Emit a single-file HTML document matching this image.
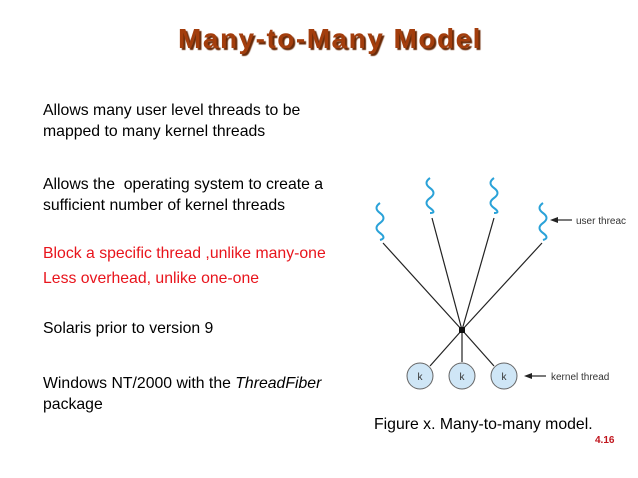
<!DOCTYPE html>
<html><head><style>
body{margin:0;width:638px;height:478px;background:#fff;position:relative;overflow:hidden;font-family:"Liberation Sans",sans-serif}
.t{position:absolute;left:43px;font-size:15.8px;line-height:21px;color:#000;white-space:nowrap}
.r{color:#e8141c}
h1{position:absolute;top:23px;left:0;width:660px;text-align:center;margin:0;font-size:28px;font-weight:bold;color:#a33d0c;text-shadow:2px 2px 1px #6a2a08;letter-spacing:1.5px}
</style></head><body>
<h1>Many-to-Many Model</h1>
<div class="t" style="top:100px">Allows many user level threads to be<br>mapped to many kernel threads</div>
<div class="t" style="top:174px">Allows the&nbsp; operating system to create a<br>sufficient number of kernel threads</div>
<div class="t r" style="top:243px">Block a specific thread ,unlike many-one</div>
<div class="t r" style="top:268px">Less overhead, unlike one-one</div>
<div class="t" style="top:318px">Solaris prior to version 9</div>
<div class="t" style="top:373px">Windows NT/2000 with the <i>ThreadFiber</i><br>package</div>
<div class="t" style="top:414px;left:374px">Figure x. Many-to-many model.</div>
<div style="position:absolute;left:595px;top:435px;font-size:10px;font-weight:bold;color:#c0141c">4.16</div>
<svg width="638" height="478" style="position:absolute;left:0;top:0">
<g fill="none" stroke="#2aa2d8" stroke-width="2">
<path d="M380 203 q-7 5 0 10 q7 5 0 10 q-7 5 0 10 q7 5 0 7"/>
<path d="M430 178 q-7 5 0 10 q7 5 0 10 q-7 5 0 10 q7 5 0 5"/>
<path d="M494 178 q-7 5 0 10 q7 5 0 10 q-7 5 0 10 q7 5 0 5"/>
<path d="M543 203 q-7 5 0 10 q7 5 0 10 q-7 5 0 10 q7 5 0 7"/>
</g>
<g stroke="#222" stroke-width="1.2">
<line x1="383" y1="243" x2="462" y2="330"/>
<line x1="432" y1="218" x2="462" y2="330"/>
<line x1="494" y1="218" x2="462" y2="330"/>
<line x1="542" y1="243" x2="462" y2="330"/>
<line x1="462" y1="330" x2="430" y2="366"/>
<line x1="462" y1="330" x2="462" y2="362"/>
<line x1="462" y1="330" x2="494" y2="366"/>
<line x1="556" y1="220" x2="572" y2="220"/>
<line x1="530" y1="376" x2="546" y2="376"/>
</g>
<rect x="459" y="327" width="6" height="6" fill="#111"/>
<polygon points="550,220 558,217 558,223" fill="#222"/>
<polygon points="524,376 532,373 532,379" fill="#222"/>
<g fill="#cfe6f6" stroke="#666" stroke-width="1">
<circle cx="420" cy="376" r="13"/><circle cx="462" cy="376" r="13"/><circle cx="504" cy="376" r="13"/>
</g>
<g font-family="Liberation Sans,sans-serif" font-size="10" fill="#333">
<text x="420" y="380" text-anchor="middle">k</text>
<text x="462" y="380" text-anchor="middle">k</text>
<text x="504" y="380" text-anchor="middle">k</text>
<text x="576" y="224">user threac</text>
<text x="551" y="380">kernel thread</text>
</g>
</svg>
</body></html>
